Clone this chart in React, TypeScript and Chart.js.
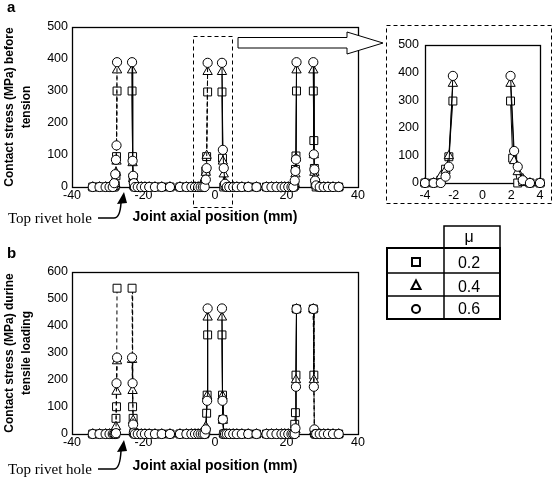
import { useEffect, useRef } from "react";
import { Chart, registerables } from "chart.js";

Chart.register(...registerables);
Chart.defaults.font.family = "'Liberation Sans', Arial, sans-serif";
Chart.defaults.color = "#000";

// node positions along the joint (mm), shared by all series
const positions = [
  -34.2, -32.3, -30.6, -29.5, -28.6, -28.2, -27.9, -27.7, -27.55, -27.4,
  -23.2, -23.05, -22.9, -22.7, -22.4, -21.6, -20.6, -19.6, -18.4, -16.8,
  -14.9, -12.6, -9.8, -8.0, -6.6, -5.6, -4.7, -4.0, -3.4, -2.9,
  -2.57, -2.34, -2.2, -2.06, 1.95, 2.1, 2.2, 2.45, 2.8, 3.3,
  4.0, 5.1, 6.1, 7.5, 9.3, 11.6, 14.4, 15.8, 17.2, 18.6,
  19.5, 20.5, 21.4, 21.9, 22.3, 22.5, 22.65, 22.8, 27.5, 27.65,
  27.8, 28.0, 28.3, 29.3, 30.4, 31.6, 33.0, 34.6,
];

// (a) before tension, MPa
const beforeMu02 = [
  0, 0, 0, 0, 0, 0, 5, 35, 95, 300,
  300, 95, 30, 5, 0, 0, 0, 0, 0, 0,
  0, 0, 0, 0, 0, 0, 0, 0, 0, 10,
  50, 95, null, 297, 297, 90, null, 0, 5, 0,
  0, 0, 0, 0, 0, 0, 0, 0, 0, 0,
  0, 0, 0, 0, 5, 55, 97, 300, 300, 145,
  58, 10, 0, 0, 0, 0, 0, 0,
];
const beforeMu04 = [
  0, 0, 0, 0, 0, 0, 10, 45, 80, 365,
  365, 75, 25, 5, 0, 0, 0, 0, 0, 0,
  0, 0, 0, 0, 0, 0, 0, 0, 0, 25,
  45, 98, null, 360, 360, null, 80, 40, 15, 0,
  0, 0, 0, 0, 0, 0, 0, 0, 0, 0,
  0, 0, 0, 0, 10, 40, 90, 365, 365, 100,
  45, 30, 5, 0, 0, 0, 0, 0,
];
const beforeMu06 = [
  0, 0, 0, 0, 0, 12, 40, 85, 130, 390,
  390, 82, 35, 12, 0, 0, 0, 0, 0, 0,
  0, 0, 0, 0, 0, 0, 0, 0, 0, 0,
  23, 59, null, 388, 388, null, 116, 59, 10, 0,
  0, 0, 0, 0, 0, 0, 0, 0, 0, 0,
  0, 0, 0, 0, 20, 50, 86, 390, 390, 102,
  55, 20, 5, 0, 0, 0, 0, 0,
];

// (b) during tensile loading, MPa
const loadMu02 = [
  0, 0, 0, 0, 0, 0, 0, 58, 101, 540,
  540, 101, 58, 5, 0, 0, 0, 0, 0, 0,
  0, 0, 0, 0, 0, 0, 0, 0, 0, 0,
  10, 77, 144, 367, 367, 144, 54, 0, 0, 0,
  0, 0, 0, 0, 0, 0, 0, 0, 0, 0,
  0, 0, 0, 0, 36, 79, 218, 463, 463, 218,
  5, 0, 0, 0, 0, 0, 0, 0,
];
const loadMu04 = [
  0, 0, 0, 0, 0, 0, 0, 27, 157, 270,
  275, 160, 50, 5, 0, 0, 0, 0, 0, 0,
  0, 0, 0, 0, 0, 0, 0, 0, 0, 0,
  27, null, 140, 432, 432, 140, 50, 0, 0, 0,
  0, 0, 0, 0, 0, 0, 0, 0, 0, 0,
  0, 0, 0, 0, 0, 15, 200, 463, 463, 200,
  10, 0, 0, 0, 0, 0, 0, 0,
];
const loadMu06 = [
  0, 0, 0, 0, 0, 0, 0, 3, 188, 283,
  283, 188, 35, 5, 0, 0, 0, 0, 0, 0,
  0, 0, 0, 0, 0, 0, 0, 0, 0, 0,
  17, null, 123, 465, 465, 123, 54, 0, 0, 0,
  0, 0, 0, 0, 0, 0, 0, 0, 0, 0,
  0, 0, 0, 0, 0, 21, 175, 463, 463, 175,
  17, 0, 0, 0, 0, 0, 0, 0,
];

const holeCentres = [-25.3, 0, 25.15];
const dashedPeaksA = [-27.4, -2.06];
const dashedPeaksB = [-27.4, -23.2, 27.5];
const muValues = ["0.2", "0.4", "0.6"];
const markers = ["rect", "triangle", "circle"];
const markerRadius = [5.6, 5.4, 4.6];

const frame = {
  id: "frame",
  beforeDatasetsDraw(chart: any) {
    const { ctx, chartArea: a } = chart;
    ctx.save();
    ctx.strokeStyle = "#000";
    ctx.lineWidth = 1.3;
    ctx.strokeRect(Math.round(a.left) + 0.5, Math.round(a.top) + 0.5, Math.round(a.right - a.left), Math.round(a.bottom - a.top));
    ctx.restore();
  },
};

function lines(values: (number | null)[][], dashedPeaks: number[], clip: any) {
  // circles first so they sit on top
  return [2, 1, 0].map((k) => ({
    label: "μ = " + muValues[k],
    data: positions.map((x, i) => ({ x, y: values[k][i] })),
    borderColor: "#000",
    borderWidth: 1,
    pointStyle: markers[k],
    pointRadius: markerRadius[k],
    pointBackgroundColor: "#fff",
    pointBorderColor: "#000",
    pointBorderWidth: 1,
    spanGaps: true,
    clip,
    segment: {
      borderColor: (c: any) =>
        holeCentres.some((h) => (c.p0.parsed.x - h) * (c.p1.parsed.x - h) < 0) ? "rgba(0,0,0,0)" : undefined,
      borderDash: (c: any) => {
        const m = (c.p0.parsed.x + c.p1.parsed.x) / 2;
        return dashedPeaks.some((p) => Math.abs(m - p) < 2) ? [4, 3] : undefined;
      },
    },
  }));
}

type Panel = {
  values: (number | null)[][];
  dashed: number[];
  xMin: number; xMax: number; xStep: number; yMax: number;
  yTitle?: string[]; xTitle?: string;
  padTop: number; padRight: number; yWidth: number; xHeight: number;
  yTickPad: number; xTickPad: number; xTitlePad: number; clip: any;
};

const panelA: Panel = {
  values: [beforeMu02, beforeMu04, beforeMu06], dashed: dashedPeaksA,
  xMin: -40, xMax: 40, xStep: 20, yMax: 500,
  yTitle: ["Contact stress (MPa) before", "tension"], xTitle: "Joint axial position (mm)",
  padTop: 27, padRight: 12, yWidth: 72, xHeight: 43, yTickPad: 4, xTickPad: 1, xTitlePad: 4, clip: false,
};
const panelInset: Panel = {
  values: [beforeMu02, beforeMu04, beforeMu06], dashed: [],
  xMin: -4, xMax: 4, xStep: 2, yMax: 500,
  padTop: 20, padRight: 12, yWidth: 39, xHeight: 21, yTickPad: 6, xTickPad: 5, xTitlePad: 0,
  clip: { left: 5, right: 5, top: 5, bottom: 5 },
};
const panelB: Panel = {
  values: [loadMu02, loadMu04, loadMu06], dashed: dashedPeaksB,
  xMin: -40, xMax: 40, xStep: 20, yMax: 600,
  yTitle: ["Contact stress (MPa) durine", "tensile loading"], xTitle: "Joint axial position (mm)",
  padTop: 32, padRight: 12, yWidth: 72, xHeight: 46, yTickPad: 4, xTickPad: 1, xTitlePad: 5, clip: false,
};

function drawPanel(canvas: HTMLCanvasElement, p: Panel) {
  return new Chart(canvas, {
    type: "line",
    data: { datasets: lines(p.values, p.dashed, p.clip) as any },
    options: {
      animation: false,
      responsive: true,
      maintainAspectRatio: false,
      events: [],
      layout: { padding: { top: p.padTop, right: p.padRight, left: 0, bottom: 0 } },
      plugins: { legend: { display: false }, tooltip: { enabled: false } },
      scales: {
        x: {
          type: "linear", min: p.xMin, max: p.xMax,
          ticks: { stepSize: p.xStep, padding: p.xTickPad, font: { size: 12.5 }, maxRotation: 0, autoSkip: false },
          grid: { display: false, drawTicks: false },
          border: { display: false },
          title: { display: !!p.xTitle, text: p.xTitle, font: { size: 14, weight: "bold" }, padding: { top: 0, bottom: p.xTitlePad } },
          afterFit: (s: any) => { s.height = p.xHeight; },
        },
        y: {
          type: "linear", min: 0, max: p.yMax,
          ticks: { stepSize: 100, padding: p.yTickPad, font: { size: 12.5 } },
          grid: { display: false, drawTicks: false },
          border: { display: false },
          title: {
            display: !!p.yTitle, text: p.yTitle,
            font: { size: 12, weight: "bold", lineHeight: 1.4 },
            padding: { top: 1.5, bottom: 0 },
          },
          afterFit: (s: any) => { s.width = p.yWidth; },
        },
      },
    },
    plugins: [frame],
  });
}

function PanelChart({ panel, box }: { panel: Panel; box: { left: number; top: number; width: number; height: number } }) {
  const ref = useRef<HTMLCanvasElement>(null);
  useEffect(() => {
    if (!ref.current) return;
    const chart = drawPanel(ref.current, panel);
    return () => chart.destroy();
  }, [panel]);
  return (
    <div style={{ position: "absolute", ...box }}>
      <canvas ref={ref}></canvas>
    </div>
  );
}

function RivetNote({ lineY, tipY }: { lineY: number; tipY: number }) {
  return (
    <g>
      <text x={8} y={lineY + 5} fontFamily="'Liberation Serif', 'Times New Roman', serif" fontSize={15}>Top rivet hole</text>
      <path d={`M98 ${lineY} L114 ${lineY} Q120 ${lineY} 121 ${tipY + 11}`} fill="none" stroke="#000" strokeWidth={1.5} />
      <polygon points={`124,${tipY} 117,${tipY + 12} 127,${tipY + 11}`} fill="#000" />
    </g>
  );
}

export default function App() {
  const sans = "'Liberation Sans', Arial, sans-serif";
  return (
    <div style={{ position: "absolute", left: 0, top: 0, width: 553, height: 480, background: "#fff", overflow: "hidden" }}>
      <PanelChart panel={panelA} box={{ left: 0, top: 0, width: 370, height: 230 }} />
      <PanelChart panel={panelInset} box={{ left: 386, top: 25, width: 166, height: 179 }} />
      <PanelChart panel={panelB} box={{ left: 0, top: 240, width: 370, height: 240 }} />
      <svg width={553} height={480} style={{ position: "absolute", left: 0, top: 0, pointerEvents: "none" }}>
        <text x={7} y={12} fontFamily={sans} fontWeight="bold" fontSize={15}>a</text>
        <text x={7} y={258} fontFamily={sans} fontWeight="bold" fontSize={15}>b</text>
        <rect x={193.5} y={36.5} width={39} height={171} fill="none" stroke="#000" strokeDasharray="4 3" />
        <polygon points="238,37.5 347,37.5 347,32 383,43 347,54 347,48 238,48" fill="#fff" stroke="#000" />
        <rect x={386.5} y={25.5} width={165} height={178} fill="none" stroke="#000" strokeDasharray="4 3" />
        <RivetNote lineY={218} tipY={192} />
        <RivetNote lineY={469} tipY={440} />
        <g stroke="#000" fill="none">
          <rect x={444} y={226} width={56} height={22} strokeWidth={1.5} />
          <rect x={387} y={248} width={113} height={71} strokeWidth={2} />
          <line x1={444} y1={248} x2={444} y2={319} strokeWidth={1.5} />
          <line x1={387} y1={273} x2={500} y2={273} strokeWidth={1.5} />
          <line x1={387} y1={296} x2={500} y2={296} strokeWidth={1.5} />
          <rect x={412} y={258} width={8} height={8} strokeWidth={2} />
          <polygon points="416,280.5 411.5,289 420.5,289" strokeWidth={2} />
          <circle cx={416} cy={309} r={4} strokeWidth={2} />
        </g>
        <g fontFamily={sans} fontSize={16} textAnchor="middle">
          <text x={469} y={242}>μ</text>
          <text x={469} y={268}>0.2</text>
          <text x={469} y={291.5}>0.4</text>
          <text x={469} y={314}>0.6</text>
        </g>
      </svg>
    </div>
  );
}
